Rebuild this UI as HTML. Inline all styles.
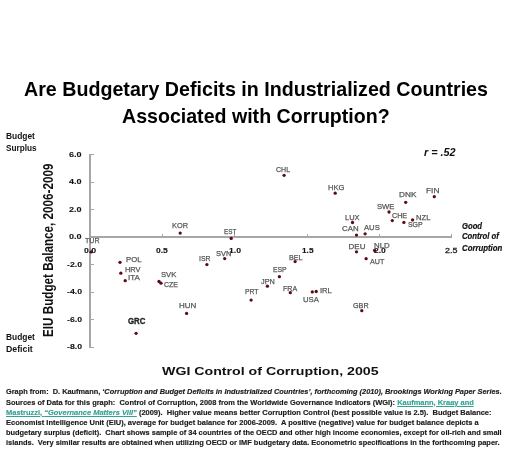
<!DOCTYPE html><html><head><meta charset="utf-8"><style>
html,body{margin:0;padding:0;background:#fff;width:512px;height:455px;overflow:hidden} #w{position:absolute;left:0;top:0;width:512px;height:455px;will-change:transform}
.t{position:absolute;white-space:nowrap;line-height:1;transform-origin:0 0;font-family:'Liberation Sans', sans-serif}
.lk{color:#33a294;text-decoration:underline;text-decoration-thickness:0.7px;-webkit-text-stroke-color:#33a294}
.d{position:absolute;width:3.3px;height:3.3px;border-radius:50%;background:#5c0b16}
.ln{position:absolute;background:#a6a6a6}
</style></head><body><div id="w">
<div class="ln" style="left:89px;top:154px;width:2px;height:193.5px"></div>
<div class="ln" style="left:91px;top:154.00px;width:2.5px;height:1px"></div>
<div class="ln" style="left:91px;top:181.50px;width:2.5px;height:1px"></div>
<div class="ln" style="left:91px;top:209.00px;width:2.5px;height:1px"></div>
<div class="ln" style="left:91px;top:236.50px;width:2.5px;height:1px"></div>
<div class="ln" style="left:91px;top:264.00px;width:2.5px;height:1px"></div>
<div class="ln" style="left:91px;top:291.50px;width:2.5px;height:1px"></div>
<div class="ln" style="left:91px;top:319.00px;width:2.5px;height:1px"></div>
<div class="ln" style="left:91px;top:346.50px;width:2.5px;height:1px"></div>
<div class="ln" style="left:90px;top:236px;width:362px;height:2px"></div>
<div class="ln" style="left:162.00px;top:234px;width:1px;height:2px"></div>
<div class="ln" style="left:234.00px;top:234px;width:1px;height:2px"></div>
<div class="ln" style="left:306.50px;top:234px;width:1px;height:2px"></div>
<div class="ln" style="left:378.50px;top:234px;width:1px;height:2px"></div>
<div class="ln" style="left:451.00px;top:234px;width:1px;height:2px"></div>
<div class="t" style="font-size:19.767px;font-weight:bold;font-style:normal;color:#000;left:24.40px;top:80.20px;transform:scaleX(0.9948)">Are Budgetary Deficits in Industrialized Countries</div>
<div class="t" style="font-size:20.349px;font-weight:bold;font-style:normal;color:#000;left:121.70px;top:106.40px;transform:scaleX(0.9635)">Associated with Corruption?</div>
<div class="t" style="font-size:8.430px;font-weight:bold;font-style:normal;color:#111;left:5.80px;top:132.10px;transform:scaleX(0.9966)">Budget</div>
<div class="t" style="font-size:8.430px;font-weight:bold;font-style:normal;color:#111;left:5.80px;top:144.30px;transform:scaleX(0.9742)">Surplus</div>
<div class="t" style="font-size:8.140px;font-weight:bold;font-style:normal;color:#111;left:5.80px;top:333.80px;transform:scaleX(1.0321)">Budget</div>
<div class="t" style="font-size:8.430px;font-weight:bold;font-style:normal;color:#111;left:5.80px;top:345.20px;transform:scaleX(1.0385)">Deficit</div>
<div class="t" style="font-size:8.000px;font-weight:bold;font-style:normal;color:#111;-webkit-text-stroke:0.1px #111;left:69.30px;top:150.80px;transform:scaleX(1.1273)">6.0</div>
<div class="t" style="font-size:8.000px;font-weight:bold;font-style:normal;color:#111;-webkit-text-stroke:0.1px #111;left:69.30px;top:178.30px;transform:scaleX(1.1273)">4.0</div>
<div class="t" style="font-size:8.000px;font-weight:bold;font-style:normal;color:#111;-webkit-text-stroke:0.1px #111;left:69.30px;top:205.80px;transform:scaleX(1.1273)">2.0</div>
<div class="t" style="font-size:8.000px;font-weight:bold;font-style:normal;color:#111;-webkit-text-stroke:0.1px #111;left:69.30px;top:233.30px;transform:scaleX(1.1273)">0.0</div>
<div class="t" style="font-size:8.000px;font-weight:bold;font-style:normal;color:#111;-webkit-text-stroke:0.1px #111;left:66.50px;top:260.80px;transform:scaleX(1.0857)">-2.0</div>
<div class="t" style="font-size:8.000px;font-weight:bold;font-style:normal;color:#111;-webkit-text-stroke:0.1px #111;left:66.50px;top:288.30px;transform:scaleX(1.0857)">-4.0</div>
<div class="t" style="font-size:8.000px;font-weight:bold;font-style:normal;color:#111;-webkit-text-stroke:0.1px #111;left:66.50px;top:315.80px;transform:scaleX(1.0857)">-6.0</div>
<div class="t" style="font-size:8.000px;font-weight:bold;font-style:normal;color:#111;-webkit-text-stroke:0.1px #111;left:66.50px;top:343.30px;transform:scaleX(1.0857)">-8.0</div>
<div class="t" style="font-size:8.000px;font-weight:bold;font-style:normal;color:#111;-webkit-text-stroke:0.1px #111;left:83.60px;top:246.90px;transform:scaleX(1.0909)">0.0</div>
<div class="t" style="font-size:8.000px;font-weight:bold;font-style:normal;color:#111;-webkit-text-stroke:0.1px #111;left:156.30px;top:246.90px;transform:scaleX(1.0636)">0.5</div>
<div class="t" style="font-size:8.000px;font-weight:bold;font-style:normal;color:#111;-webkit-text-stroke:0.1px #111;left:228.90px;top:246.90px;transform:scaleX(1.0818)">1.0</div>
<div class="t" style="font-size:8.000px;font-weight:bold;font-style:normal;color:#111;-webkit-text-stroke:0.1px #111;left:301.60px;top:246.90px;transform:scaleX(1.0364)">1.5</div>
<div class="t" style="font-size:8.000px;font-weight:bold;font-style:normal;color:#111;-webkit-text-stroke:0.1px #111;left:373.50px;top:246.90px;transform:scaleX(1.0636)">2.0</div>
<div class="t" style="font-size:7.800px;font-weight:normal;font-style:normal;color:#222;-webkit-text-stroke:0.3px #222;left:445.20px;top:246.90px;transform:scaleX(1.1364)">2.5</div>
<div class="t" style="font-size:8.000px;font-weight:normal;font-style:normal;color:#555555;-webkit-text-stroke:0.25px #555555;left:84.70px;top:236.60px;transform:scaleX(0.8875)">TUR</div>
<div class="t" style="font-size:8.000px;font-weight:normal;font-style:normal;color:#555555;-webkit-text-stroke:0.25px #555555;left:125.60px;top:256.20px;transform:scaleX(0.9625)">POL</div>
<div class="t" style="font-size:8.000px;font-weight:normal;font-style:normal;color:#555555;-webkit-text-stroke:0.25px #555555;left:124.50px;top:266.00px;transform:scaleX(0.9294)">HRV</div>
<div class="t" style="font-size:8.000px;font-weight:normal;font-style:normal;color:#555555;-webkit-text-stroke:0.25px #555555;left:128.20px;top:274.40px;transform:scaleX(1.0083)">ITA</div>
<div class="t" style="font-size:8.000px;font-weight:normal;font-style:normal;color:#555555;-webkit-text-stroke:0.25px #555555;left:161.20px;top:270.60px;transform:scaleX(0.9562)">SVK</div>
<div class="t" style="font-size:8.000px;font-weight:normal;font-style:normal;color:#555555;-webkit-text-stroke:0.25px #555555;left:164.20px;top:281.40px;transform:scaleX(0.8687)">CZE</div>
<div class="t" style="font-size:8.000px;font-weight:normal;font-style:normal;color:#555555;-webkit-text-stroke:0.25px #555555;left:178.90px;top:301.70px;transform:scaleX(0.9941)">HUN</div>
<div class="t" style="font-size:8.000px;font-weight:normal;font-style:normal;color:#555555;-webkit-text-stroke:0.25px #555555;left:172.40px;top:222.40px;transform:scaleX(0.9235)">KOR</div>
<div class="t" style="font-size:8.000px;font-weight:normal;font-style:normal;color:#555555;-webkit-text-stroke:0.25px #555555;left:224.00px;top:227.70px;transform:scaleX(0.7875)">EST</div>
<div class="t" style="font-size:8.000px;font-weight:normal;font-style:normal;color:#555555;-webkit-text-stroke:0.25px #555555;left:215.80px;top:249.50px;transform:scaleX(0.9375)">SVN</div>
<div class="t" style="font-size:8.000px;font-weight:normal;font-style:normal;color:#555555;-webkit-text-stroke:0.25px #555555;left:199.40px;top:255.30px;transform:scaleX(0.8615)">ISR</div>
<div class="t" style="font-size:8.000px;font-weight:normal;font-style:normal;color:#555555;-webkit-text-stroke:0.25px #555555;left:276.30px;top:165.90px;transform:scaleX(0.8813)">CHL</div>
<div class="t" style="font-size:8.000px;font-weight:normal;font-style:normal;color:#555555;-webkit-text-stroke:0.25px #555555;left:327.80px;top:183.60px;transform:scaleX(0.9529)">HKG</div>
<div class="t" style="font-size:8.000px;font-weight:normal;font-style:normal;color:#555555;-webkit-text-stroke:0.25px #555555;left:345.40px;top:213.50px;transform:scaleX(0.9333)">LUX</div>
<div class="t" style="font-size:8.000px;font-weight:normal;font-style:normal;color:#555555;-webkit-text-stroke:0.25px #555555;left:342.40px;top:225.10px;transform:scaleX(0.9813)">CAN</div>
<div class="t" style="font-size:8.000px;font-weight:normal;font-style:normal;color:#555555;-webkit-text-stroke:0.25px #555555;left:363.90px;top:223.50px;transform:scaleX(0.9563)">AUS</div>
<div class="t" style="font-size:8.000px;font-weight:normal;font-style:normal;color:#555555;-webkit-text-stroke:0.25px #555555;left:348.60px;top:243.30px;transform:scaleX(1.0000)">DEU</div>
<div class="t" style="font-size:8.000px;font-weight:normal;font-style:normal;color:#555555;-webkit-text-stroke:0.25px #555555;left:374.00px;top:241.60px;transform:scaleX(0.9813)">NLD</div>
<div class="t" style="font-size:8.000px;font-weight:normal;font-style:normal;color:#555555;-webkit-text-stroke:0.25px #555555;left:370.10px;top:258.10px;transform:scaleX(0.9000)">AUT</div>
<div class="t" style="font-size:8.000px;font-weight:normal;font-style:normal;color:#555555;-webkit-text-stroke:0.25px #555555;left:426.20px;top:187.40px;transform:scaleX(1.0417)">FIN</div>
<div class="t" style="font-size:8.000px;font-weight:normal;font-style:normal;color:#555555;-webkit-text-stroke:0.25px #555555;left:398.90px;top:191.10px;transform:scaleX(1.0313)">DNK</div>
<div class="t" style="font-size:8.000px;font-weight:normal;font-style:normal;color:#555555;-webkit-text-stroke:0.25px #555555;left:376.80px;top:202.80px;transform:scaleX(0.9556)">SWE</div>
<div class="t" style="font-size:8.000px;font-weight:normal;font-style:normal;color:#555555;-webkit-text-stroke:0.25px #555555;left:392.40px;top:212.40px;transform:scaleX(0.8941)">CHE</div>
<div class="t" style="font-size:8.000px;font-weight:normal;font-style:normal;color:#555555;-webkit-text-stroke:0.25px #555555;left:416.20px;top:214.30px;transform:scaleX(0.9533)">NZL</div>
<div class="t" style="font-size:8.000px;font-weight:normal;font-style:normal;color:#555555;-webkit-text-stroke:0.25px #555555;left:408.40px;top:220.90px;transform:scaleX(0.8647)">SGP</div>
<div class="t" style="font-size:8.000px;font-weight:normal;font-style:normal;color:#555555;-webkit-text-stroke:0.25px #555555;left:289.00px;top:253.90px;transform:scaleX(0.9000)">BEL</div>
<div class="t" style="font-size:8.000px;font-weight:normal;font-style:normal;color:#555555;-webkit-text-stroke:0.25px #555555;left:273.20px;top:266.30px;transform:scaleX(0.8500)">ESP</div>
<div class="t" style="font-size:8.000px;font-weight:normal;font-style:normal;color:#555555;-webkit-text-stroke:0.25px #555555;left:260.90px;top:278.20px;transform:scaleX(0.9067)">JPN</div>
<div class="t" style="font-size:8.000px;font-weight:normal;font-style:normal;color:#555555;-webkit-text-stroke:0.25px #555555;left:283.10px;top:285.00px;transform:scaleX(0.8875)">FRA</div>
<div class="t" style="font-size:8.000px;font-weight:normal;font-style:normal;color:#555555;-webkit-text-stroke:0.25px #555555;left:244.50px;top:287.70px;transform:scaleX(0.8500)">PRT</div>
<div class="t" style="font-size:8.000px;font-weight:normal;font-style:normal;color:#555555;-webkit-text-stroke:0.25px #555555;left:320.40px;top:287.00px;transform:scaleX(0.9500)">IRL</div>
<div class="t" style="font-size:8.000px;font-weight:normal;font-style:normal;color:#555555;-webkit-text-stroke:0.25px #555555;left:303.30px;top:295.70px;transform:scaleX(0.9625)">USA</div>
<div class="t" style="font-size:8.000px;font-weight:normal;font-style:normal;color:#555555;-webkit-text-stroke:0.25px #555555;left:352.60px;top:302.45px;transform:scaleX(0.9000)">GBR</div>
<div class="t" style="font-size:8.600px;font-weight:bold;font-style:normal;color:#222;-webkit-text-stroke:0.3px #222;left:128.20px;top:317.00px;transform:scaleX(0.9158)">GRC</div>
<div class="t" style="font-size:11.337px;font-weight:bold;font-style:normal;color:#111;left:162.40px;top:365.60px;transform:scaleX(1.2514)">WGI Control of Corruption, 2005</div>
<div class="t" style="font-size:10.174px;font-weight:bold;font-style:italic;color:#111;left:423.60px;top:147.50px;transform:scaleX(1.0633)"><i>r</i> = .52</div>
<div class="t" style="font-size:8.400px;font-weight:bold;font-style:italic;color:#111;-webkit-text-stroke:0.2px #111;left:462.30px;top:221.50px;transform:scaleX(0.9136)">Good</div>
<div class="t" style="font-size:8.400px;font-weight:bold;font-style:italic;color:#111;-webkit-text-stroke:0.2px #111;left:462.30px;top:232.40px;transform:scaleX(0.9220)">Control of</div>
<div class="t" style="font-size:8.400px;font-weight:bold;font-style:italic;color:#111;-webkit-text-stroke:0.2px #111;left:462.30px;top:243.50px;transform:scaleX(0.9302)">Corruption</div>
<div class="t" style="font-size:7.200px;font-weight:bold;font-style:normal;color:#1a1a1a;-webkit-text-stroke:0.15px #1a1a1a;left:5.90px;top:388.30px;transform:scaleX(1.0261)">Graph from:&nbsp; D. Kaufmann, <i>&#8216;Corruption and Budget Deficits in Industrialized Countries&#8217;, forthcoming (2010), Brookings Working Paper Series.</i></div>
<div class="t" style="font-size:7.200px;font-weight:bold;font-style:normal;color:#1a1a1a;-webkit-text-stroke:0.15px #1a1a1a;left:5.90px;top:398.50px;transform:scaleX(1.0368)">Sources of Data for this graph:&nbsp; Control of Corruption, 2008 from the Worldwide Governance Indicators (WGI): <span class=lk>Kaufmann, Kraay and</span></div>
<div class="t" style="font-size:7.200px;font-weight:bold;font-style:normal;color:#1a1a1a;-webkit-text-stroke:0.15px #1a1a1a;left:5.90px;top:408.60px;transform:scaleX(1.0398)"><span class=lk>Mastruzzi, <i>&#8220;Governance Matters VIII&#8221;</i></span> (2009).&nbsp; Higher value means better Corruption Control (best possible value is 2.5).&nbsp; Budget Balance:</div>
<div class="t" style="font-size:7.200px;font-weight:bold;font-style:normal;color:#1a1a1a;-webkit-text-stroke:0.15px #1a1a1a;left:5.90px;top:418.80px;transform:scaleX(1.0410)">Economist Intelligence Unit (EIU), average for budget balance for 2006-2009.&nbsp; A positive (negative) value for budget balance depicts a</div>
<div class="t" style="font-size:7.200px;font-weight:bold;font-style:normal;color:#1a1a1a;-webkit-text-stroke:0.15px #1a1a1a;left:5.90px;top:429.00px;transform:scaleX(1.0282)">budgetary surplus (deficit).&nbsp; Chart shows sample of 34 countries of the OECD and other high income economies, except for oil-rich and small</div>
<div class="t" style="font-size:7.200px;font-weight:bold;font-style:normal;color:#1a1a1a;-webkit-text-stroke:0.15px #1a1a1a;left:5.90px;top:439.10px;transform:scaleX(1.0359)">islands.&nbsp; Very similar results are obtained when utilizing OECD or IMF budgetary data. Econometric specifications in the forthcoming paper.</div>
<div class="t" style="font-size:14.535px;font-weight:bold;font-style:normal;color:#111;left:41.30px;top:337.01px;transform:rotate(-90deg) scaleX(0.8051)">EIU Budget Balance, 2006-2009</div>
<svg width="512" height="455" style="position:absolute;left:0;top:0">
<circle cx="91.30" cy="251.90" r="1.65" fill="#5c0b16"/>
<circle cx="120.00" cy="262.30" r="1.65" fill="#5c0b16"/>
<circle cx="120.80" cy="273.20" r="1.65" fill="#5c0b16"/>
<circle cx="125.20" cy="280.70" r="1.65" fill="#5c0b16"/>
<circle cx="159.00" cy="281.50" r="1.65" fill="#5c0b16"/>
<circle cx="161.00" cy="283.20" r="1.65" fill="#5c0b16"/>
<circle cx="186.60" cy="313.40" r="1.65" fill="#5c0b16"/>
<circle cx="136.10" cy="333.30" r="1.65" fill="#5c0b16"/>
<circle cx="180.20" cy="233.10" r="1.65" fill="#5c0b16"/>
<circle cx="231.20" cy="238.40" r="1.65" fill="#5c0b16"/>
<circle cx="224.70" cy="258.60" r="1.65" fill="#5c0b16"/>
<circle cx="206.90" cy="264.60" r="1.65" fill="#5c0b16"/>
<circle cx="284.10" cy="175.30" r="1.65" fill="#5c0b16"/>
<circle cx="335.20" cy="193.20" r="1.65" fill="#5c0b16"/>
<circle cx="352.50" cy="222.50" r="1.65" fill="#5c0b16"/>
<circle cx="356.50" cy="235.10" r="1.65" fill="#5c0b16"/>
<circle cx="365.10" cy="233.80" r="1.65" fill="#5c0b16"/>
<circle cx="356.50" cy="251.80" r="1.65" fill="#5c0b16"/>
<circle cx="374.60" cy="250.50" r="1.65" fill="#5c0b16"/>
<circle cx="366.10" cy="258.70" r="1.65" fill="#5c0b16"/>
<circle cx="434.30" cy="196.70" r="1.65" fill="#5c0b16"/>
<circle cx="405.70" cy="202.30" r="1.65" fill="#5c0b16"/>
<circle cx="389.00" cy="212.00" r="1.65" fill="#5c0b16"/>
<circle cx="392.30" cy="220.60" r="1.65" fill="#5c0b16"/>
<circle cx="412.60" cy="219.90" r="1.65" fill="#5c0b16"/>
<circle cx="403.90" cy="222.40" r="1.65" fill="#5c0b16"/>
<circle cx="295.10" cy="261.60" r="1.65" fill="#5c0b16"/>
<circle cx="279.40" cy="276.70" r="1.65" fill="#5c0b16"/>
<circle cx="267.40" cy="286.20" r="1.65" fill="#5c0b16"/>
<circle cx="290.30" cy="292.70" r="1.65" fill="#5c0b16"/>
<circle cx="251.10" cy="300.10" r="1.65" fill="#5c0b16"/>
<circle cx="312.30" cy="291.90" r="1.65" fill="#5c0b16"/>
<circle cx="316.20" cy="291.50" r="1.65" fill="#5c0b16"/>
<circle cx="361.80" cy="310.70" r="1.65" fill="#5c0b16"/>
</svg>
</div></body></html>
